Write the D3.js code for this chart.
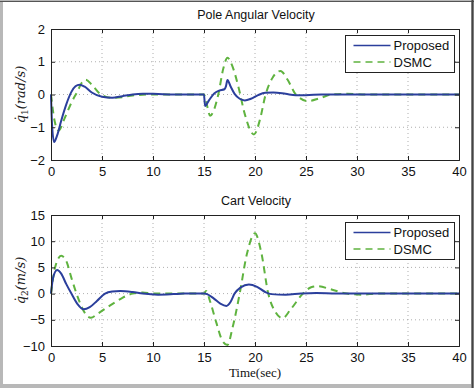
<!DOCTYPE html>
<html>
<head>
<script src="https://d3js.org/d3.v7.min.js"></script>
<style>
  body { margin: 0; background: #fff; }
  svg { font-family: "Liberation Sans", Arial, sans-serif; }
</style>
</head>
<body>
<svg id="svg" width="474" height="388"></svg>
<script>
  const xTicks = [0, 5, 10, 15, 20, 25, 30, 35, 40];
  const seriesNames = ["Proposed", "DSMC"];

  // Pole angular velocity
  const poleProposed = [
    [0, 0], [0.1, -0.9], [0.3, -1.45], [0.6, -1.25], [1, -0.8], [1.5, -0.3], [2, 0.08],
    [2.4, 0.25], [2.8, 0.3], [3.3, 0.24], [4, 0.06], [5, -0.07], [6, -0.1], [7, -0.05],
    [8, 0], [9, 0.02], [10, 0.02], [12, 0], [15, 0], [15.1, -0.35], [15.5, -0.17],
    [16, 0.03], [16.5, 0.12], [17, 0.16], [17.15, 0.25], [17.3, 0.44], [17.6, 0.25],
    [18, 0.02], [18.5, -0.13], [19, -0.18], [19.6, -0.13], [20.3, -0.02], [21, 0.05],
    [21.8, 0.06], [23, 0.02], [24, -0.02], [25, -0.02], [26.5, 0], [40, 0]
  ];
  const poleDSMC = [
    [0, 0], [0.35, -0.8], [0.75, -1.1], [1.3, -0.75], [2, -0.25], [2.6, 0.1], [3, 0.35],
    [3.4, 0.45], [4, 0.3], [4.9, 0], [6, -0.1], [7, -0.08], [8, -0.03], [10, 0], [15, 0],
    [15.2, -0.2], [15.6, -0.65], [16, -0.45], [16.4, 0], [16.9, 0.8], [17.3, 1.12],
    [17.8, 0.85], [18.4, 0.2], [19, -0.6], [19.9, -1.22], [20.5, -0.75], [21, -0.05],
    [21.7, 0.5], [22.5, 0.72], [23.2, 0.45], [24, 0], [25.2, -0.2], [26.3, -0.12],
    [27.5, 0], [29, 0.02], [31, 0], [40, 0]
  ];
  const poleTicks = [-2, -1, 0, 1, 2];

  // Cart velocity
  const cartProposed = [
    [0, 0], [0.2, 3], [0.6, 4.5], [1, 3.8], [1.5, 1.8], [2, 0], [2.6, -2], [3.2, -3],
    [3.8, -2.6], [4.5, -1.4], [5.3, 0], [6, 0.4], [6.8, 0.5], [8, 0.3], [9, 0],
    [10.5, -0.2], [12, -0.1], [13, 0], [15, 0], [15.3, -0.1], [16, -1], [16.6, -1.9],
    [17.2, -2.35], [17.6, -1.6], [18, 0], [18.6, 1.2], [19.4, 1.75], [20.2, 1.3],
    [21, 0.3], [21.6, -0.1], [23, -0.2], [24.5, 0], [26, 0.1], [28, 0], [40, 0]
  ];
  const cartDSMC = [
    [0, 0], [0.4, 5], [1, 7.2], [1.5, 6.2], [2, 3], [2.5, 0], [3, -2.5], [3.5, -4.2],
    [3.9, -4.6], [4.6, -3.8], [6, -2], [7, -0.8], [8, 0], [9, 0.2], [10, 0], [15, 0],
    [15.2, 0.5], [15.6, -1.5], [16.2, -5.5], [16.8, -9], [17.3, -9.8], [17.8, -6.5],
    [18.5, 0], [19.2, 7.5], [20, 11.5], [20.6, 8], [21.3, 0], [22, -3.5], [22.7, -4.7],
    [23.5, -3], [24.7, 0], [25.5, 1.2], [26.1, 1.4], [27.5, 0.8], [29, 0], [30.5, -0.2],
    [32, 0], [40, 0]
  ];
  const cartTicks = [-10, -5, 0, 5, 10, 15];

  const colors = ["#2b3f9c", "#5fb33f"];
  const svg = d3.select("#svg");

  // frame
  svg.append("rect").attr("x", 0).attr("y", 0).attr("width", 474).attr("height", 388).attr("fill", "#b8b8b8");
  svg.append("rect").attr("x", 3).attr("y", 2).attr("width", 468).attr("height", 382).attr("fill", "#fff");
  svg.append("line").attr("x1", 0).attr("x2", 474).attr("y1", 1.5).attr("y2", 1.5).attr("stroke", "#555");
  svg.append("line").attr("x1", 472.5).attr("x2", 472.5).attr("y1", 0).attr("y2", 388).attr("stroke", "#444").attr("stroke-width", 2);

  const x = d3.scaleLinear().domain([0, 40]).range([51, 459]);

  function panel(cfg) {
    const y = d3.scaleLinear().domain(cfg.domain).range([cfg.bottom, cfg.top]);
    const g = svg.append("g");

    g.append("rect").attr("x", x(0)).attr("y", cfg.top).attr("width", x(40) - x(0))
      .attr("height", cfg.bottom - cfg.top).attr("fill", "#fff");

    // grid
    g.selectAll(".gx").data(xTicks.slice(1, -1)).join("line")
      .attr("x1", d => x(d)).attr("x2", d => x(d)).attr("y1", cfg.top).attr("y2", cfg.bottom)
      .attr("stroke", "#9a9a9a").attr("stroke-width", 0.8).attr("stroke-dasharray", "1,3");
    g.selectAll(".gy").data(cfg.ticks.slice(1, -1)).join("line")
      .attr("x1", x(0)).attr("x2", x(40)).attr("y1", d => y(d)).attr("y2", d => y(d))
      .attr("stroke", "#9a9a9a").attr("stroke-width", 0.8).attr("stroke-dasharray", "1,3");

    const line = d3.line().x(d => x(d[0])).y(d => y(d[1])).curve(d3.curveMonotoneX);
    g.append("path").datum(cfg.dsmc).attr("d", line).attr("fill", "none")
      .attr("stroke", colors[1]).attr("stroke-width", 2).attr("stroke-dasharray", "7,5");
    g.append("path").datum(cfg.proposed).attr("d", line).attr("fill", "none")
      .attr("stroke", colors[0]).attr("stroke-width", 2);

    // axes with inward ticks
    g.append("g").attr("transform", `translate(0,${cfg.bottom})`)
      .call(d3.axisBottom(x).tickValues(xTicks).tickSize(-4).tickPadding(7));
    g.append("g").attr("transform", `translate(${x(0)},0)`)
      .call(d3.axisLeft(y).tickValues(cfg.ticks).tickSize(-4).tickPadding(6).tickFormat(d => d < 0 ? "\u2212" + Math.abs(d) : d));
    g.append("g").attr("transform", `translate(0,${cfg.top})`)
      .call(d3.axisTop(x).tickValues(xTicks).tickSize(-4).tickFormat(""));
    g.append("g").attr("transform", `translate(${x(40)},0)`)
      .call(d3.axisRight(y).tickValues(cfg.ticks).tickSize(-4).tickFormat(""));
    g.selectAll(".domain").attr("stroke", "#222").attr("fill", "none");
    g.selectAll(".tick line").attr("stroke", "#222");
    g.selectAll(".tick text").attr("font-size", 13).attr("fill", "#111")
      .attr("font-family", "Liberation Sans, Arial, sans-serif");

    // title
    g.append("text").attr("x", 256).attr("y", cfg.top - 10).attr("text-anchor", "middle")
      .attr("font-size", 12.5).attr("fill", "#111").text(cfg.title);

    // y label
    const yl = g.append("text").attr("transform", `translate(25,${(cfg.top + cfg.bottom) / 2}) rotate(-90)`)
      .attr("text-anchor", "middle").attr("font-family", "DejaVu Serif, Liberation Serif, serif")
      .attr("font-style", "italic").attr("font-size", 13).attr("fill", "#222");
    yl.append("tspan").text("q\u0307");
    yl.append("tspan").attr("font-size", 9).attr("dy", 3).attr("font-style", "normal").text(cfg.sub);
    yl.append("tspan").attr("dy", -3).text(cfg.unit);

    // legend
    const lg = g.append("g").attr("transform", `translate(345.5,${cfg.legendTop + 0.5})`);
    lg.append("rect").attr("width", 109).attr("height", 37).attr("fill", "#fff").attr("stroke", "#222");
    seriesNames.forEach((n, i) => {
      const yy = 10 + i * 16.5;
      lg.append("line").attr("x1", 8).attr("x2", 45).attr("y1", yy).attr("y2", yy)
        .attr("stroke", colors[i]).attr("stroke-width", 1.5)
        .attr("stroke-dasharray", i === 1 ? "7,5" : null);
      lg.append("text").attr("x", 48).attr("y", yy + 4.5).attr("font-size", 13).attr("fill", "#111").text(n);
    });
  }

  panel({ title: "Pole Angular Velocity", domain: [-2, 2], ticks: poleTicks, top: 29, bottom: 160,
    proposed: poleProposed, dsmc: poleDSMC, sub: "1", unit: "(rad/s)", legendTop: 35 });
  panel({ title: "Cart Velocity", domain: [-10, 15], ticks: cartTicks, top: 215, bottom: 346,
    proposed: cartProposed, dsmc: cartDSMC, sub: "2", unit: "(m/s)", legendTop: 222 });

  svg.append("text").attr("x", 255).attr("y", 377).attr("text-anchor", "middle")
    .attr("font-family", "Liberation Serif, DejaVu Serif, serif").attr("font-size", 13).attr("fill", "#111")
    .text("Time(sec)");
</script>
</body>
</html>
